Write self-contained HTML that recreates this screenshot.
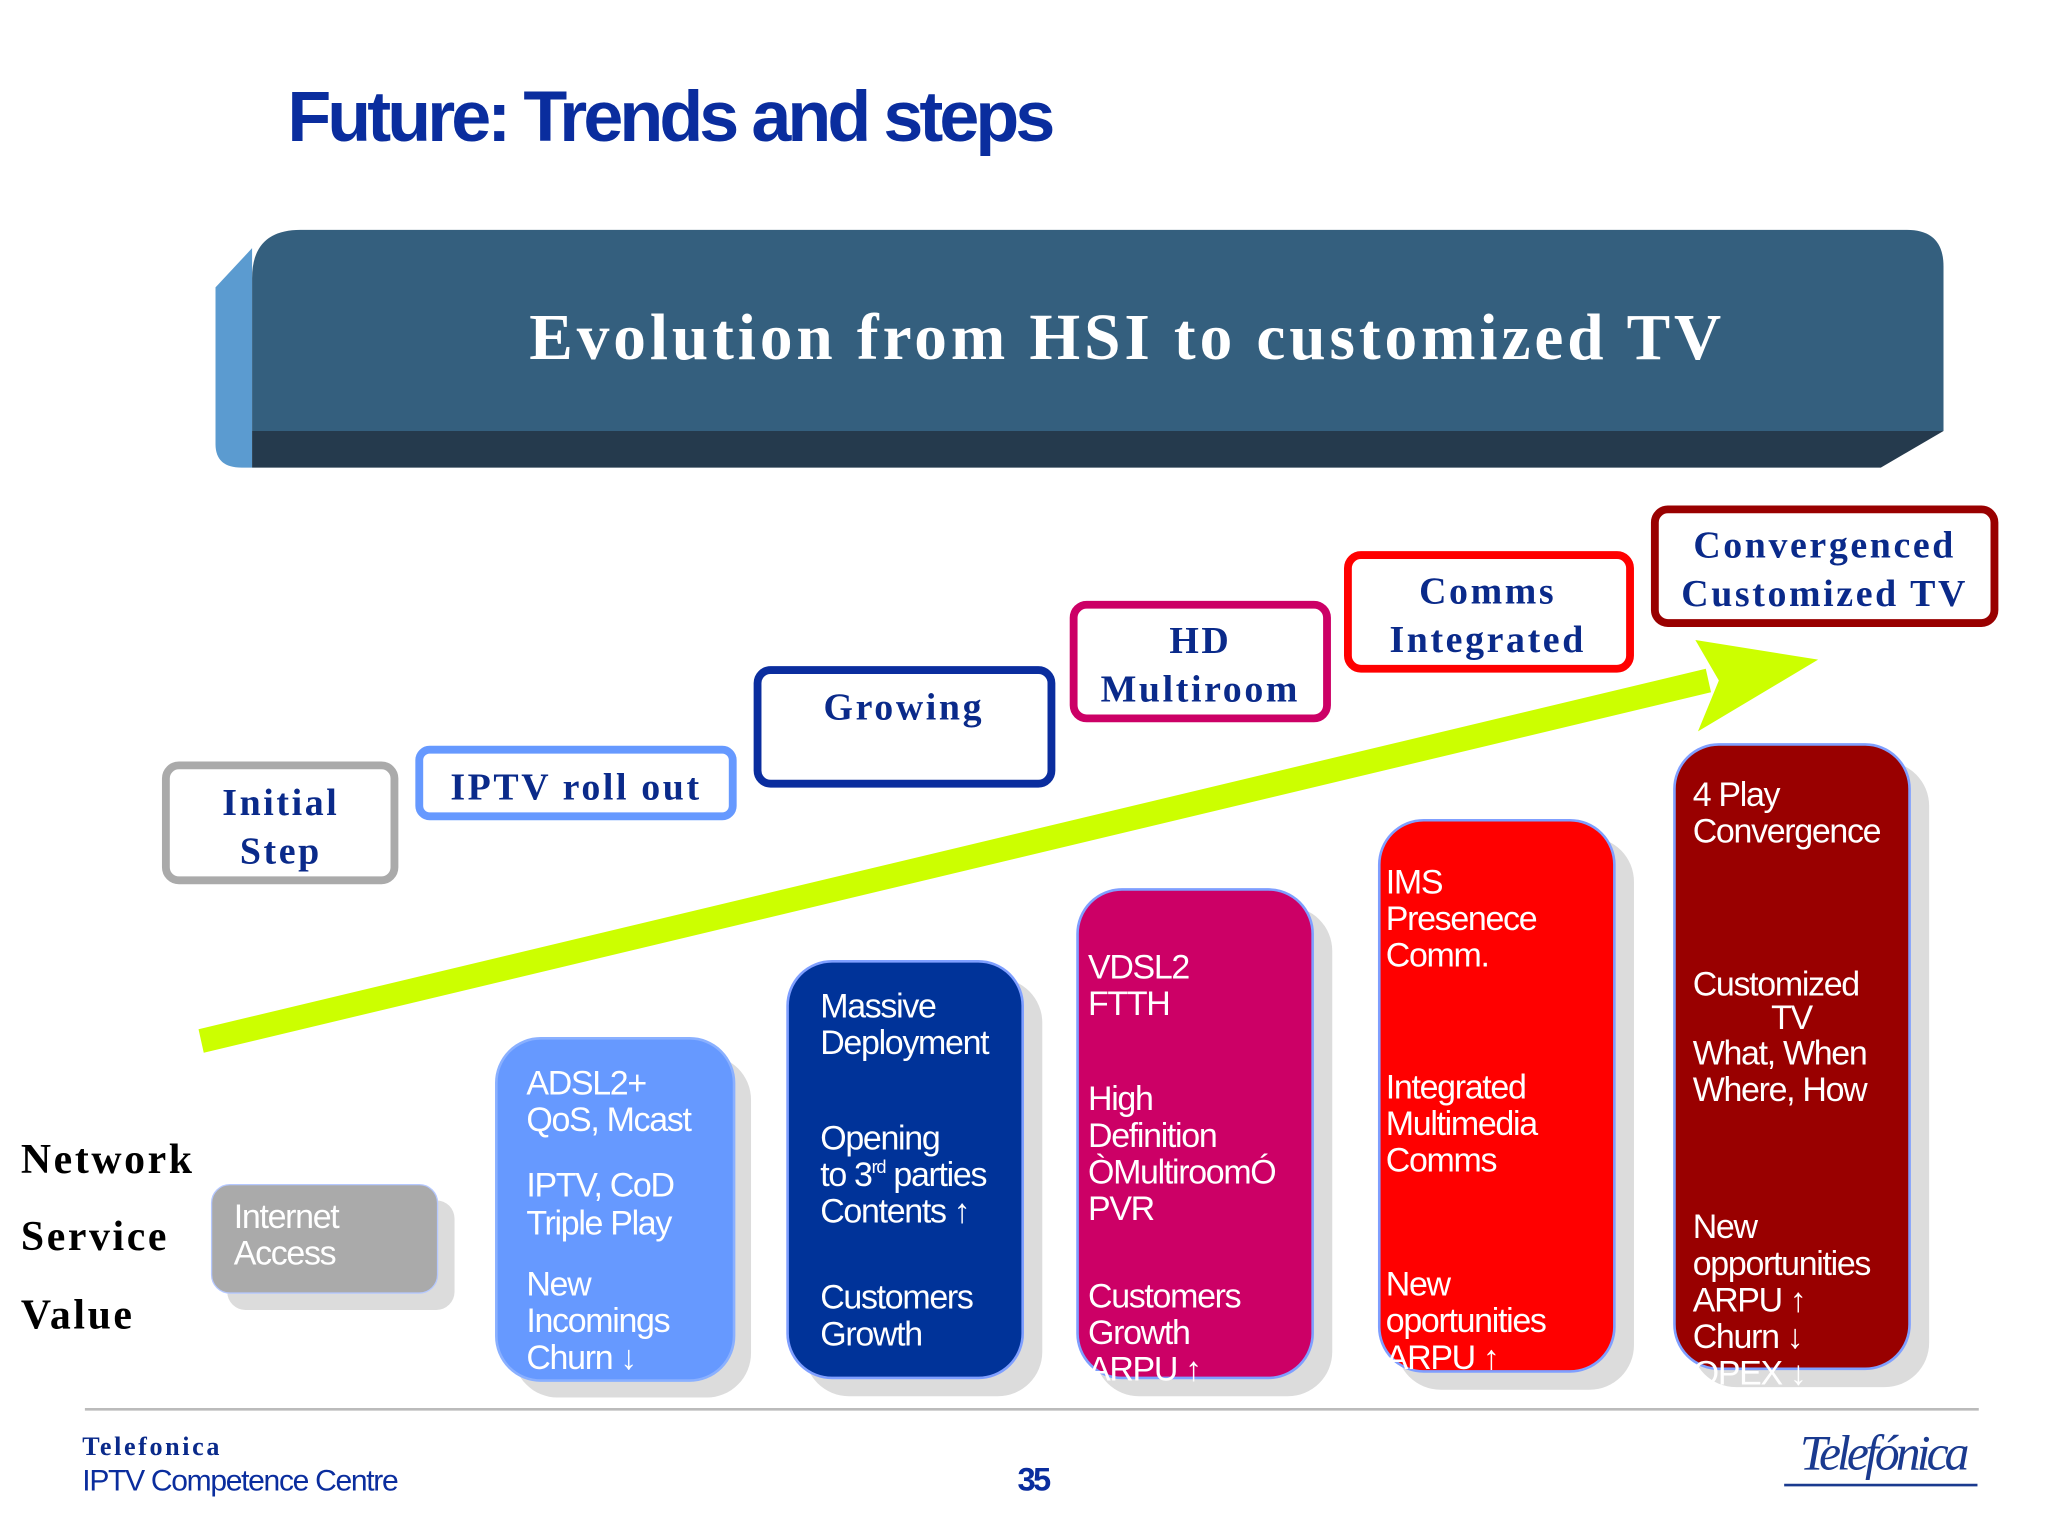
<!DOCTYPE html>
<html><head><meta charset="utf-8"><style>
html,body{margin:0;padding:0;background:#fff;width:2048px;height:1536px;overflow:hidden}
svg{display:block}
.ser{font-family:"Liberation Serif",serif;font-weight:bold}
.san{font-family:"Liberation Sans",sans-serif}
.col{font-family:"Liberation Sans",sans-serif;font-size:26px;fill:#fff;letter-spacing:-1px}
.step{font-family:"Liberation Serif",serif;font-weight:bold;font-size:29px;fill:#0a2a8a;letter-spacing:2px;text-anchor:middle}
</style></head><body>
<svg width="2048" height="1536" viewBox="0 0 1568 1176" xmlns="http://www.w3.org/2000/svg">
<text x="220" y="108" class="san" font-weight="bold" font-size="55" fill="#0a2d9e" letter-spacing="-3">Future: Trends and steps</text>

<g>
<path d="M193 190 L165 220 L165 340 Q165 358 185 358 L193 358 Z" fill="#5b9bd0"/>
<path d="M193 330 L1488 330 L1440 358 L193 358 Z" fill="#253a4d"/>
<path d="M230 176 L1460 176 Q1488 176 1488 204 L1488 330 L193 330 L193 213 Q193 176 230 176 Z" fill="#345f7e"/>
<text x="863" y="275" class="ser" font-size="50" fill="#fff" text-anchor="middle" letter-spacing="3">Evolution from HSI to customized TV</text>
</g>

<g>
<rect x="127" y="586" width="175" height="88" rx="10" fill="#fff" stroke="#aaa" stroke-width="6"/>
<text x="215" y="624" class="step">Initial</text><text x="215" y="661" class="step">Step</text></g>
<g>
<rect x="321" y="574" width="240" height="51" rx="8" fill="#fff" stroke="#6699ff" stroke-width="6"/>
<text x="441" y="612" class="step">IPTV roll out</text></g>
<g>
<rect x="580" y="513" width="225" height="87" rx="10" fill="#fff" stroke="#0a2d9e" stroke-width="6"/>
<text x="692" y="551" class="step">Growing</text></g>
<g>
<rect x="822" y="463" width="194" height="87" rx="10" fill="#fff" stroke="#cc0066" stroke-width="6"/>
<text x="919" y="500" class="step">HD</text><text x="919" y="537" class="step">Multiroom</text></g>
<g>
<rect x="1032" y="425" width="216" height="87" rx="10" fill="#fff" stroke="#ff0000" stroke-width="6"/>
<text x="1139" y="462" class="step">Comms</text><text x="1139" y="499" class="step">Integrated</text></g>
<g>
<rect x="1267" y="390" width="260" height="87" rx="10" fill="#fff" stroke="#990000" stroke-width="6"/>
<text x="1397" y="427" class="step">Convergenced</text><text x="1397" y="464" class="step">Customized TV</text></g>

<g>
<polygon points="152,788 1306,512 1310,530 156,806" fill="#ccff00"/>
<polygon points="1298,490 1392,505 1300,560 1316,521" fill="#ccff00"/>
</g>

<g>
<rect x="174" y="919" width="174" height="84" rx="14" fill="#dcdcdc"/>
<rect x="162" y="907" width="173" height="83" rx="14" fill="#aaaaaa" stroke="#b5c8ff" stroke-width="1"/>
<text class="col"><tspan x="179" y="940">Internet</tspan><tspan x="179" y="968">Access</tspan></text></g>

<g>
<rect x="393" y="808" width="182" height="262" rx="34" fill="#dcdcdc"/>
<rect x="380" y="795" width="182" height="262" rx="34" fill="#6699ff" stroke="#8ab0ff" stroke-width="2"/>
<text class="col"><tspan x="403" y="838">ADSL2+</tspan><tspan x="403" y="866">QoS, Mcast</tspan><tspan x="403" y="916">IPTV, CoD</tspan><tspan x="403" y="945">Triple Play</tspan><tspan x="403" y="992">New</tspan><tspan x="403" y="1020">Incomings</tspan><tspan x="403" y="1048">Churn ↓</tspan></text></g>

<g>
<rect x="616" y="749" width="182" height="320" rx="34" fill="#dcdcdc"/>
<rect x="603" y="736" width="180" height="319" rx="34" fill="#003399" stroke="#7f9fff" stroke-width="2"/>
<text class="col"><tspan x="628" y="779">Massive</tspan><tspan x="628" y="807">Deployment</tspan><tspan x="628" y="880">Opening</tspan><tspan x="628" y="908">to 3<tspan font-size="14" dy="-10">rd</tspan><tspan dy="10"> parties</tspan></tspan><tspan x="628" y="936">Contents ↑</tspan><tspan x="628" y="1002">Customers</tspan><tspan x="628" y="1030">Growth</tspan></text></g>

<g>
<rect x="838" y="694" width="182" height="375" rx="34" fill="#dcdcdc"/>
<rect x="825" y="681" width="180" height="374" rx="34" fill="#cc0066" stroke="#7f9fff" stroke-width="2"/>
<text class="col"><tspan x="833" y="749">VDSL2</tspan><tspan x="833" y="777">FTTH</tspan><tspan x="833" y="850">High</tspan><tspan x="833" y="878">Definition</tspan><tspan x="833" y="906">ÒMultiroomÓ</tspan><tspan x="833" y="934">PVR</tspan><tspan x="833" y="1001">Customers</tspan><tspan x="833" y="1029">Growth</tspan><tspan x="833" y="1057">ARPU ↑</tspan></text></g>

<g>
<rect x="1069" y="641" width="182" height="423" rx="34" fill="#dcdcdc"/>
<rect x="1056" y="628" width="180" height="422" rx="34" fill="#ff0000" stroke="#7f9fff" stroke-width="2"/>
<text class="col"><tspan x="1061" y="684">IMS</tspan><tspan x="1061" y="712">Presenece</tspan><tspan x="1061" y="740">Comm.</tspan><tspan x="1061" y="841">Integrated</tspan><tspan x="1061" y="869">Multimedia</tspan><tspan x="1061" y="897">Comms</tspan><tspan x="1061" y="992">New</tspan><tspan x="1061" y="1020">oportunities</tspan><tspan x="1061" y="1048">ARPU ↑</tspan></text></g>

<g>
<rect x="1295" y="583" width="182" height="479" rx="34" fill="#dcdcdc"/>
<rect x="1282" y="570" width="180" height="478" rx="34" fill="#990000" stroke="#7f9fff" stroke-width="2"/>
<text class="col"><tspan x="1296" y="617">4 Play</tspan><tspan x="1296" y="645">Convergence</tspan><tspan x="1296" y="762">Customized</tspan><tspan x="1356" y="788">TV</tspan><tspan x="1296" y="815">What, When</tspan><tspan x="1296" y="843">Where, How</tspan><tspan x="1296" y="948">New</tspan><tspan x="1296" y="976">opportunities</tspan><tspan x="1296" y="1004">ARPU ↑</tspan><tspan x="1296" y="1032">Churn ↓</tspan><tspan x="1296" y="1060">OPEX ↓</tspan></text></g>

<g class="ser" font-size="32" fill="#000" letter-spacing="2">
<text x="16" y="898">Network</text>
<text x="16" y="957">Service</text>
<text x="16" y="1017">Value</text></g>

<line x1="65" y1="1079" x2="1515" y2="1079" stroke="#bbb" stroke-width="2"/>
<text x="63" y="1114" class="ser" font-size="20" fill="#0a2a8a" letter-spacing="2">Telefonica</text>
<text x="63" y="1141" class="san" font-size="23" fill="#0a2d9e" letter-spacing="-1">IPTV Competence Centre</text>
<text x="779" y="1141" class="san" font-weight="bold" font-size="25" fill="#0a2d9e" letter-spacing="-2">35</text>
<text x="1378" y="1125" font-family="Liberation Serif,serif" font-style="italic" font-size="38" fill="#1a3a8f" letter-spacing="-3">Telefónica</text>
<line x1="1366" y1="1137" x2="1514" y2="1137" stroke="#1a3a8f" stroke-width="2"/>
</svg>
</body></html>
